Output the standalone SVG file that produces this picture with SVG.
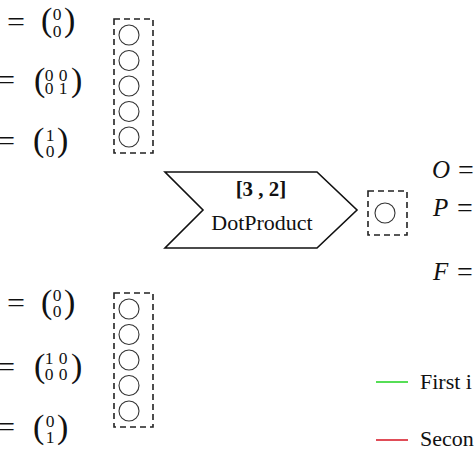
<svg xmlns="http://www.w3.org/2000/svg" width="474" height="474" viewBox="0 0 474 474">
<style>
text{font-family:"Liberation Serif","Times New Roman",serif;fill:#111}
.eq{font-size:28px}
.par{font-size:34px}
.dg{font-size:17.5px;text-anchor:middle}
.dash{fill:none;stroke:#222;stroke-width:1.6;stroke-dasharray:6 4}
.neu{fill:#fff;stroke:#333;stroke-width:1.1}
.it{font-size:25px;font-style:italic}
.lg{font-size:22px}
</style>
<rect width="474" height="474" fill="#fff"/>
<g font-family="Liberation Serif, Times New Roman, serif">
<g id="input-a-labels">
<text class="eq" x="7" y="31" textLength="18" lengthAdjust="spacingAndGlyphs">=</text>
<text class="par" x="41" y="31">(</text><text class="par" x="64" y="31">)</text>
<text class="dg" x="57" y="20">0</text><text class="dg" x="57" y="37">0</text>
<text class="eq" x="-2" y="89" textLength="17" lengthAdjust="spacingAndGlyphs">=</text>
<text class="par" x="34" y="91">(</text><text class="par" x="71" y="91">)</text>
<text class="dg" x="49" y="81">0</text><text class="dg" x="63" y="81">0</text>
<text class="dg" x="49" y="94">0</text><text class="dg" x="63" y="94">1</text>
<text class="eq" x="-2" y="150" textLength="17" lengthAdjust="spacingAndGlyphs">=</text>
<text class="par" x="33" y="151">(</text><text class="par" x="57" y="151">)</text>
<text class="dg" x="50" y="141">1</text><text class="dg" x="50" y="157">0</text>
</g>
<g id="input-a">
<rect class="dash" x="114" y="19" width="39" height="134"/>
<circle class="neu" cx="129" cy="35" r="10"/>
<circle class="neu" cx="129" cy="60.5" r="10"/>
<circle class="neu" cx="129" cy="86" r="10"/>
<circle class="neu" cx="129" cy="111.5" r="10"/>
<circle class="neu" cx="129" cy="137" r="10"/>
</g>
<g id="input-b-labels">
<text class="eq" x="7" y="312" textLength="18" lengthAdjust="spacingAndGlyphs">=</text>
<text class="par" x="41" y="313">(</text><text class="par" x="64" y="313">)</text>
<text class="dg" x="57" y="301">0</text><text class="dg" x="57" y="317">0</text>
<text class="eq" x="-2" y="376" textLength="17" lengthAdjust="spacingAndGlyphs">=</text>
<text class="par" x="34" y="377">(</text><text class="par" x="71" y="377">)</text>
<text class="dg" x="49" y="364">1</text><text class="dg" x="63" y="364">0</text>
<text class="dg" x="49" y="380">0</text><text class="dg" x="63" y="380">0</text>
<text class="eq" x="-2" y="436" textLength="17" lengthAdjust="spacingAndGlyphs">=</text>
<text class="par" x="33" y="438">(</text><text class="par" x="57" y="438">)</text>
<text class="dg" x="50" y="427">0</text><text class="dg" x="50" y="443">1</text>
</g>
<g id="input-b">
<rect class="dash" x="114" y="293" width="39" height="134"/>
<circle class="neu" cx="129" cy="309" r="10"/>
<circle class="neu" cx="129" cy="334.5" r="10"/>
<circle class="neu" cx="129" cy="360" r="10"/>
<circle class="neu" cx="129" cy="385.5" r="10"/>
<circle class="neu" cx="129" cy="411" r="10"/>
</g>
<g id="dotproduct">
<polygon points="165,172 317,172 357,210 317,248 165,248 203,210" fill="#fff" stroke="#111" stroke-width="1.6"/>
<text x="261" y="196" text-anchor="middle" font-size="21" font-weight="bold">[3 , 2]</text>
<text x="262" y="230" text-anchor="middle" font-size="22">DotProduct</text>
</g>
<g id="output">
<rect class="dash" x="368" y="191" width="39" height="44"/>
<circle class="neu" cx="385" cy="213" r="10"/>
</g>
<g id="output-labels">
<text class="it" x="432" y="178">O</text><text class="eq" x="458" y="179">=</text>
<text class="it" x="433" y="216">P</text><text class="eq" x="457" y="217">=</text>
<text class="it" x="433" y="280">F</text><text class="eq" x="457" y="281">=</text>
</g>
<g id="connectors"></g>
<g id="legend">
<line x1="376" y1="382" x2="408" y2="382" stroke="#2bd62b" stroke-width="1.6"/>
<text class="lg" x="420" y="389">First i</text>
<line x1="376" y1="440" x2="408" y2="440" stroke="#d8202e" stroke-width="1.6"/>
<text class="lg" x="420" y="446">Secon</text>
</g>
</g>
</svg>
